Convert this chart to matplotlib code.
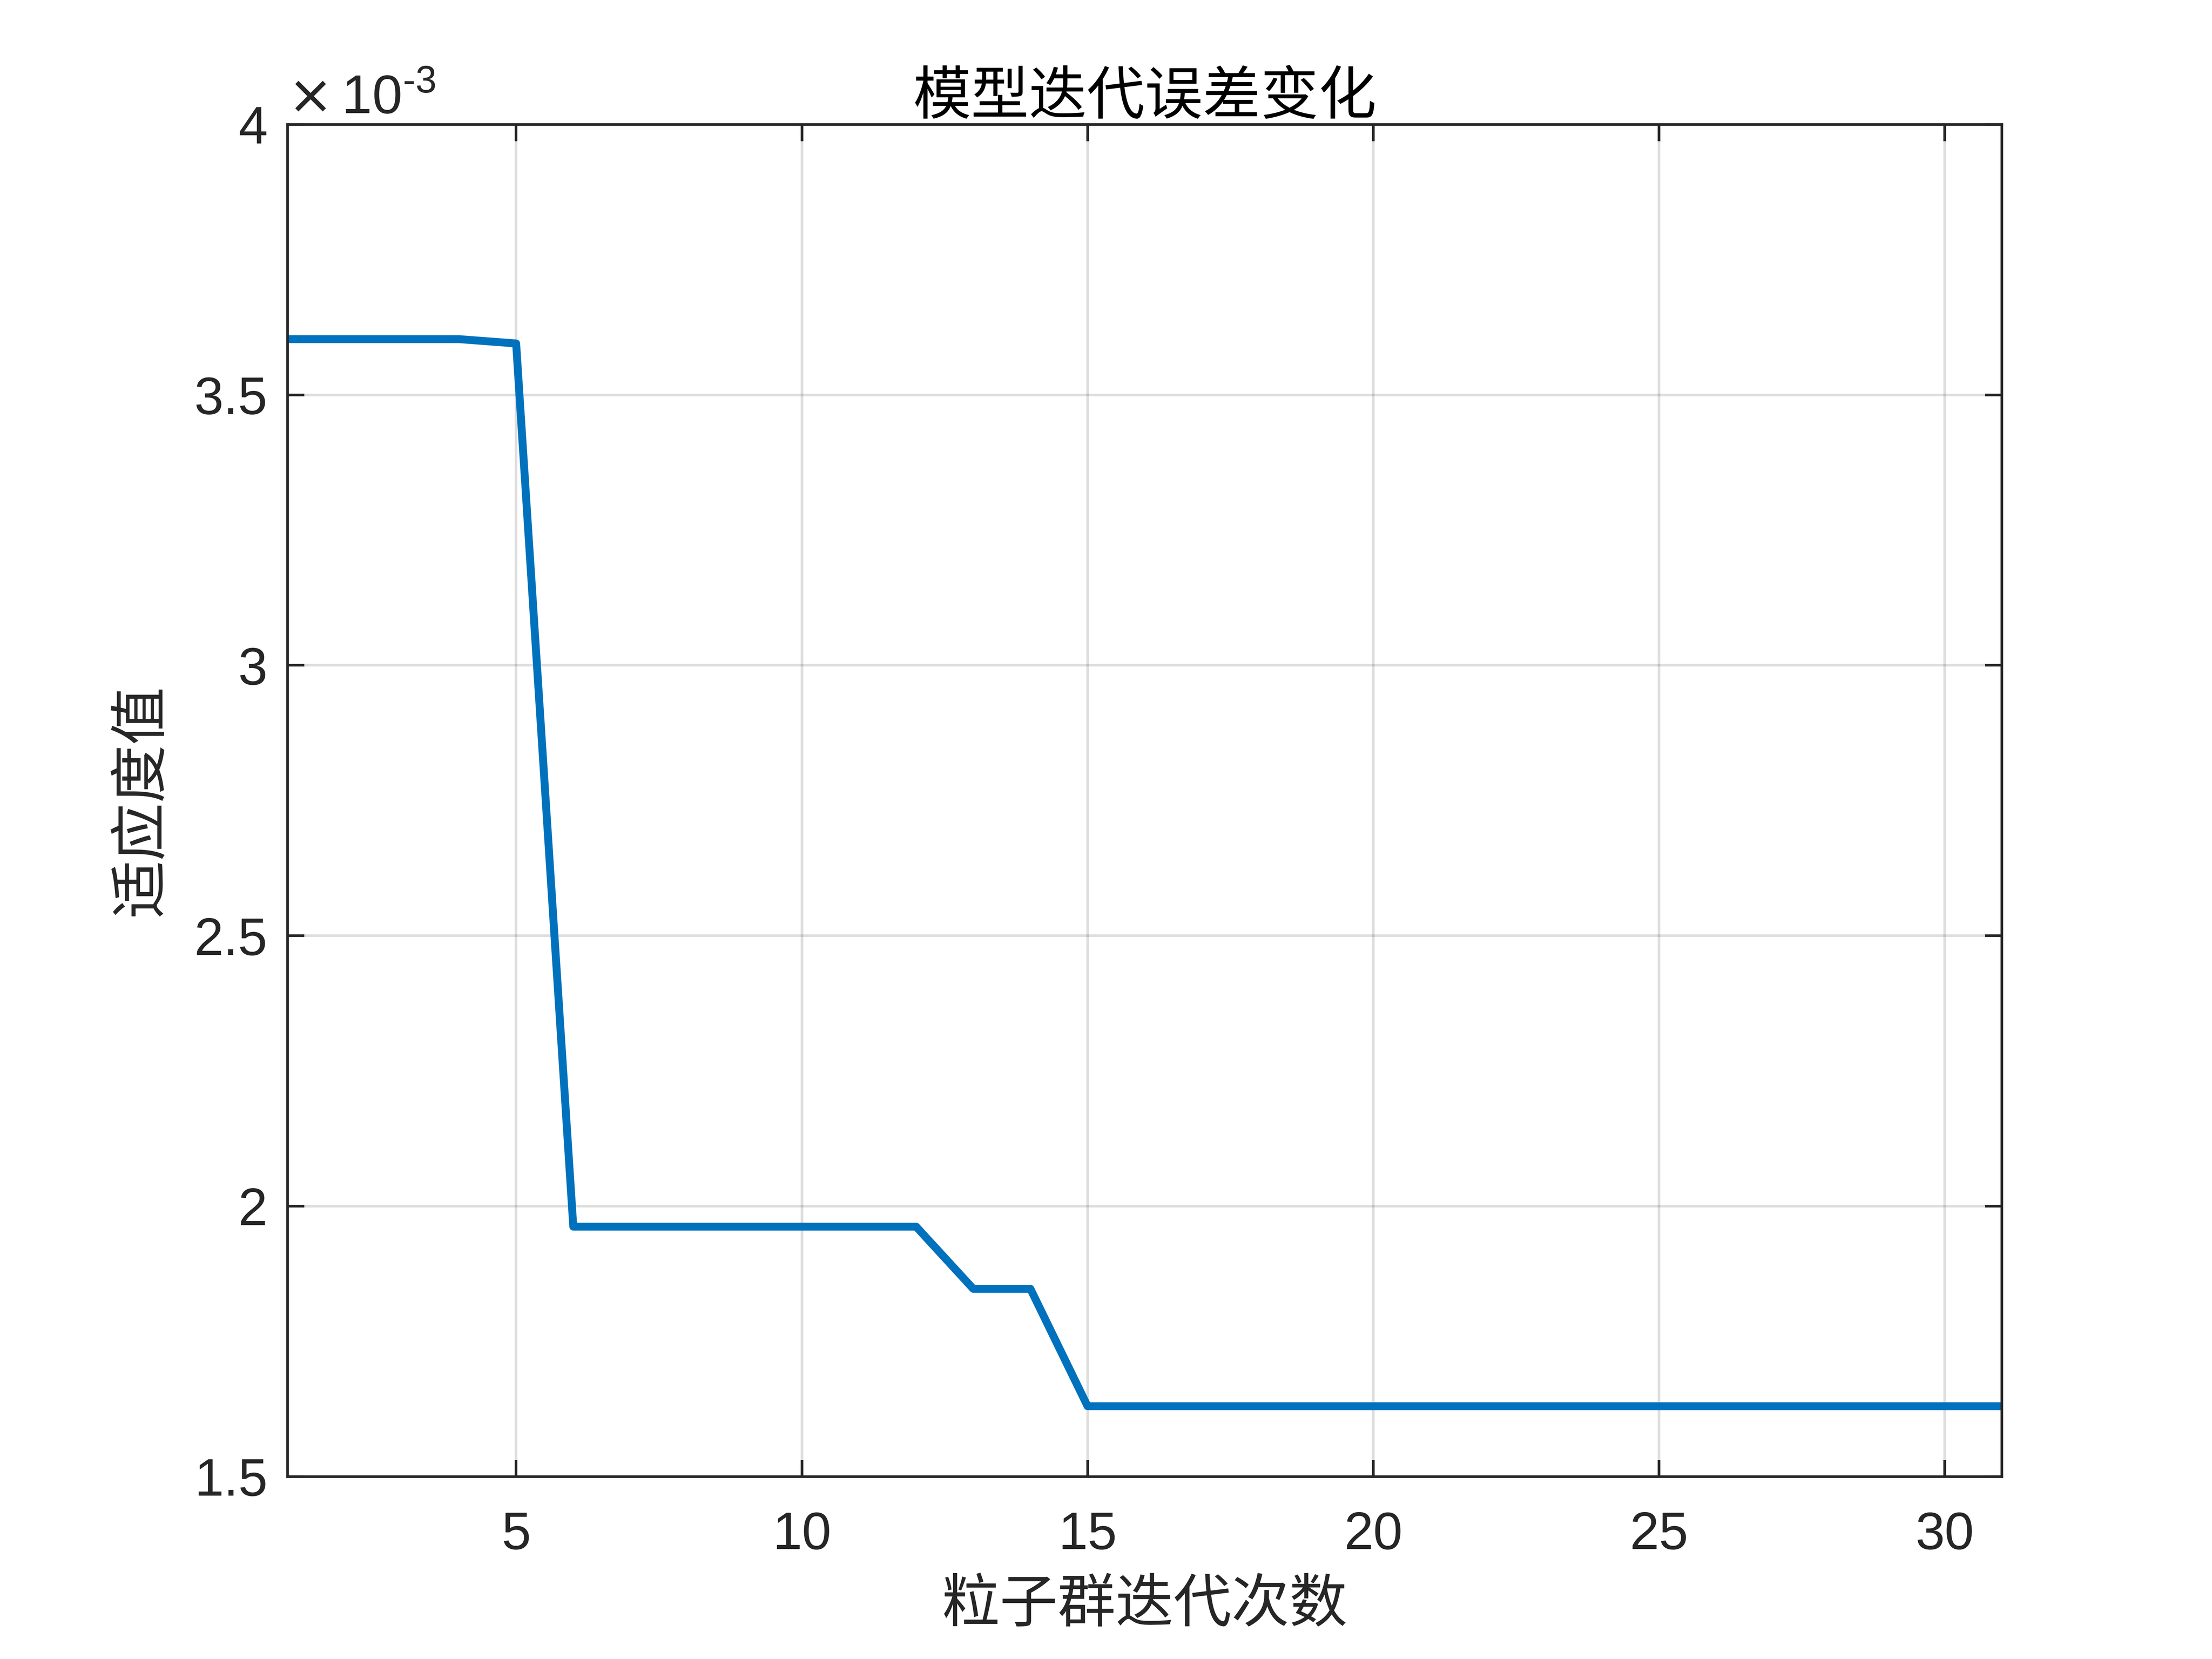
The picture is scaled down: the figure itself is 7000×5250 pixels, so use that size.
import numpy as np
import matplotlib
matplotlib.use("Agg")
import matplotlib.pyplot as plt
from matplotlib.ticker import FuncFormatter

# 粒子群迭代次数 / 适应度值
iters = np.arange(1, 32)
fitness = np.array([3.603, 3.603, 3.603, 3.603, 3.595,
                    1.962, 1.962, 1.962, 1.962, 1.962, 1.962, 1.962,
                    1.847, 1.847,
                    1.630, 1.630, 1.630, 1.630, 1.630, 1.630, 1.630, 1.630,
                    1.630, 1.630, 1.630, 1.630, 1.630, 1.630, 1.630, 1.630,
                    1.630]) * 1e-3

xticks = [5, 10, 15, 20, 25, 30]
yticks = np.array([1.5, 2, 2.5, 3, 3.5, 4]) * 1e-3

title_txt = '模型迭代误差变化'
xlabel_txt = '粒子群迭代次数'
ylabel_txt = '适应度值'

plt.rcParams['font.family'] = ['Liberation Sans', 'Noto Sans CJK SC', 'DejaVu Sans']
plt.rcParams['mathtext.fontset'] = 'custom'
plt.rcParams['mathtext.rm'] = 'Liberation Sans'
plt.rcParams['mathtext.sf'] = 'DejaVu Sans'
axc = '#262626'
cjk = ['Noto Sans CJK SC', 'DejaVu Sans']

fig = plt.figure(figsize=(7000/1200, 5250/1200), dpi=1200)
ax = fig.add_axes([0.13, 0.11, 0.775, 0.815])

ax.plot(iters, fitness, color='#0072BD', lw=1.5)

ax.set_xlim(1, 31)
ax.set_ylim(1.5e-3, 4e-3)
ax.set_xticks(xticks)
ax.set_yticks(yticks)
ax.yaxis.set_major_formatter(FuncFormatter(lambda v, p: f'{v*1e3:g}'))

ax.grid(True, color='#262626', alpha=0.15, lw=0.5)
ax.tick_params(direction='in', length=3.2, width=0.5, colors=axc,
               labelsize=10, top=True, right=True)
ax.tick_params(axis='x', pad=6.5)
ax.tick_params(axis='y', pad=3.8)
for s in ax.spines.values():
    s.set_linewidth(0.5)
    s.set_color(axc)

# exponent label, MATLAB style
ax.text(0.0, 1.008, r'$\mathsf{\times}\,$10$^{\text{-3}}$', transform=ax.transAxes,
        ha='left', va='baseline', fontsize=10.3, color=axc)

ax.set_title(title_txt, family=cjk, fontsize=11, color='black', pad=2)
ax.set_xlabel(xlabel_txt, family=cjk, fontsize=11, color=axc, labelpad=3)
ax.set_ylabel(ylabel_txt, family=cjk, fontsize=11, color=axc, labelpad=4.4)

fig.savefig('out.png', dpi=1200, facecolor='white')
